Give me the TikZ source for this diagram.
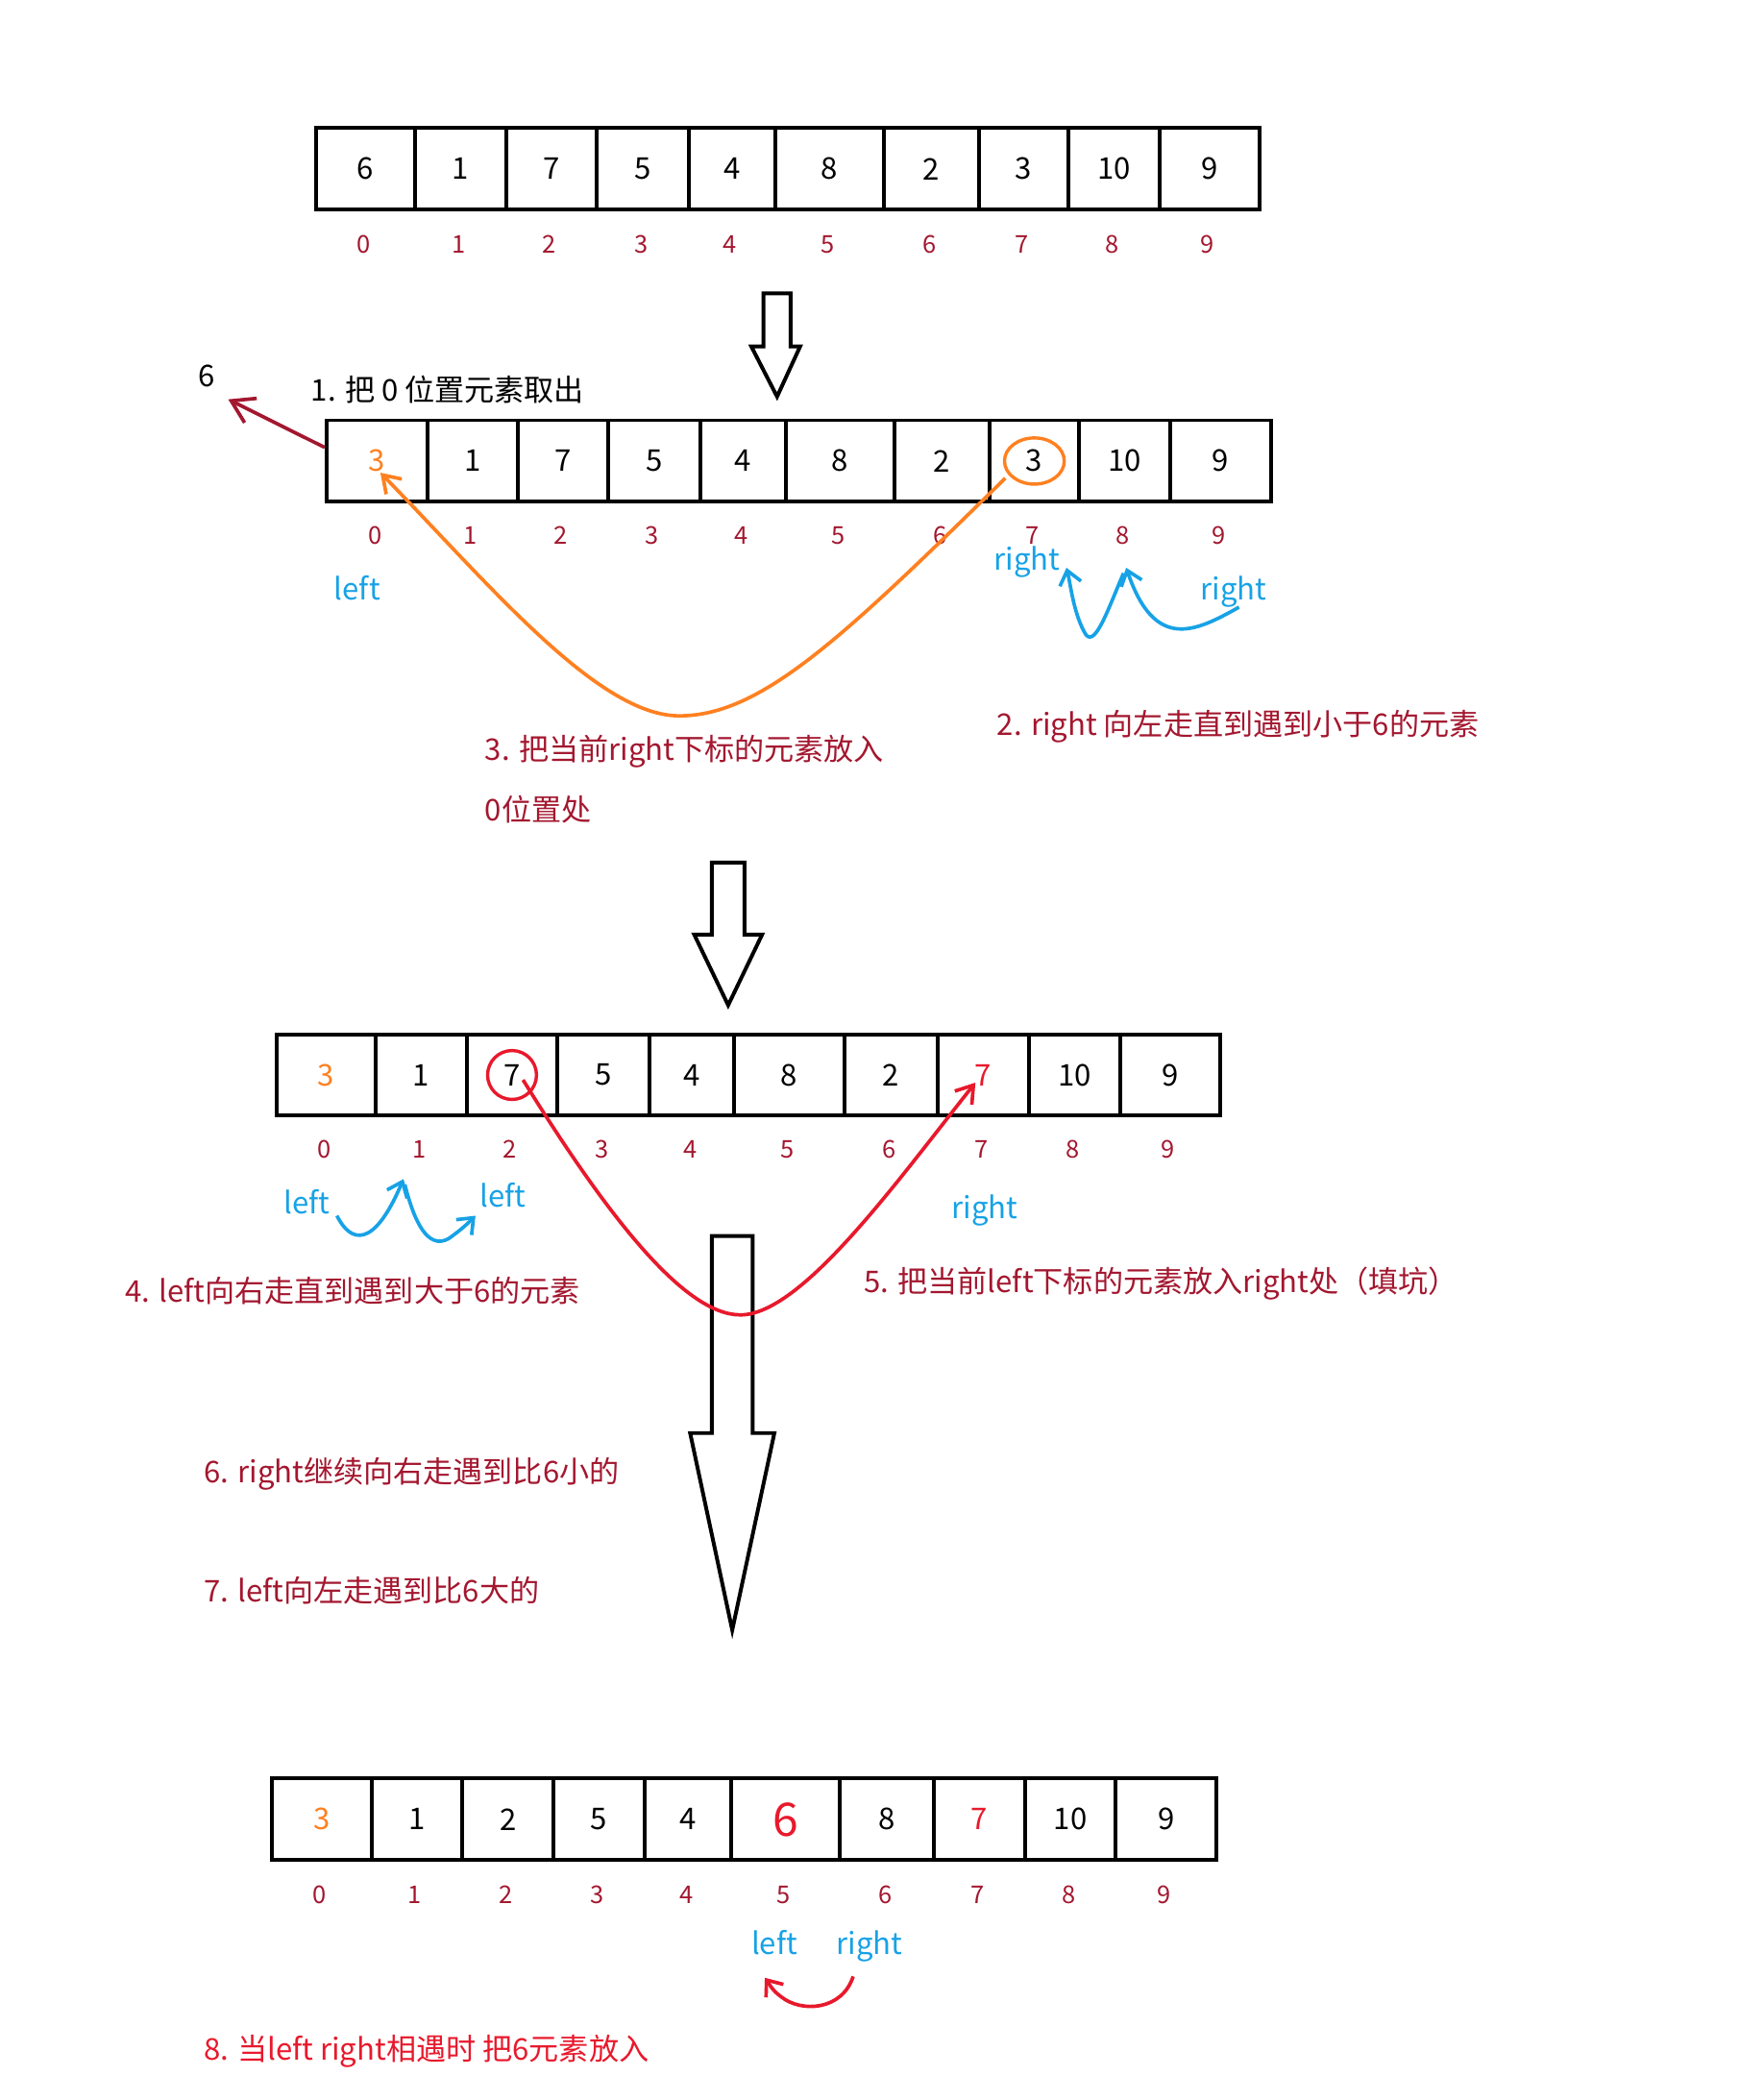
\documentclass[tikz,border=0pt]{standalone}
\usepackage{fontspec}
\setmainfont{Noto Sans CJK SC}
\usetikzlibrary{arrows.meta}
\definecolor{dred}{HTML}{A3172F}
\definecolor{sblue}{HTML}{17A2E6}
\definecolor{ora}{HTML}{FF8020}
\definecolor{rred}{HTML}{E8192C}
\tikzset{cell/.style={draw,line width=1.4pt,inner sep=0,anchor=north west,font=\fontsize{11}{12}\selectfont},
idx/.style={text=dred,font=\fontsize{9}{10}\selectfont},
note/.style={text=dred,anchor=west,font=\fontsize{11}{13}\selectfont},
bl/.style={text=sblue,font=\fontsize{11}{12}\selectfont},
hollow/.style={draw,line width=1.4pt,fill=white,line join=miter}}
\newcommand\drawrow[4]{%
 \foreach \a/\b/\v [count=\i from 0] in {#3} {
  \pgfmathsetmacro\w{(\b-\a)*0.5}
  \node[cell,minimum width=\w pt,minimum height=30pt] (#1c\i) at (\a,#2) {\v};
  \node[idx] (#1i\i) at ({(\a+\b)/2},#4) {\i};
 }}
\begin{document}
\begin{tikzpicture}[x=0.5pt,y=-0.5pt]
\useasboundingbox (0,0) rectangle (1298,1546);
\drawrow{a}{93}{231/304/6,304/371/1,371/438/7,438/506/5,506/569/4,569/649/8,649/719/2,719/785/3,785/852/10,852/926/9}{180}
\drawrow{b}{308}{239/313/{\color{ora}3},313/380/1,380/446/7,446/514/5,514/577/4,577/657/8,657/727/2,727/793/3,793/860/10,860/934/9}{394}
\drawrow{c}{760}{202/275/{\color{ora}3},275/342/1,342/409/7,409/477/5,477/539/4,539/620/8,620/689/2,689/756/{\color{rred}7},756/823/10,823/897/9}{846}
\drawrow{d}{1308}{199/272/{\color{ora}3},272/339/1,339/406/2,406/473/5,473/537/4,537/617/{\color{rred}\fontsize{17}{18}\selectfont 6},617/686/8,686/753/{\color{rred}7},753/820/10,820/894/9}{1395}
% hollow arrows
\draw[hollow] (562,216)--(582,216)--(582,255)--(589,255)--(572,292)--(553,255)--(562,255)--cycle;
\draw[hollow] (524,635)--(548,635)--(548,688)--(561,688)--(536,740)--(511,688)--(524,688)--cycle;
\draw[hollow] (524,910)--(554,910)--(554,1055)--(570,1055)--(539,1200)--(508,1055)--(524,1055)--cycle;
% row 2 annotations
\node[anchor=west,font=\fontsize{11}{12}\selectfont] (t1) at (222,287) {1. 把 0 位置元素取出};
\node[font=\fontsize{11}{12}\selectfont] (six) at (152,277) {6};
\coordinate (s6) at (168,294);
\draw[dred,line width=1.3pt,-{Straight Barb[length=8pt,width=10pt]}] (bc0.west) ++(0,-10) coordinate (sx) -- (s6);
\draw[ora,line width=1.2pt] (bc7) ellipse (22 and 17);
\coordinate (o1) at (740,352); \coordinate (o2) at (280,348);
\draw[ora,line width=1.3pt,-{Straight Barb[length=6pt,width=8pt]}] (o1) .. controls (620,470) and (560,527) .. (500,527) .. controls (440,527) and (360,430) .. (o2);
\node[bl] (l1) at (263,433) {left};
\node[bl] (r1) at (756,414) {right};
\node[bl] (r2) at (908,436) {right};
\coordinate (q1) at (912,447); \coordinate (q2) at (829,418); \coordinate (q3) at (785,418);
\draw[sblue,line width=1.3pt,-{Straight Barb[length=5pt,width=8pt]}] (q1) .. controls (880,465) and (850,480) .. (q2);
\draw[sblue,line width=1.3pt,-{Straight Barb[length=5pt,width=8pt]}] (827,422) .. controls (815,450) and (805,480) .. (798,465) .. controls (790,450) and (788,430) .. (q3);
\node[note] (t3) at (350,553) {3. 把当前right下标的元素放入};
\node[note] (t3b) at (350,596) {0位置处};
\node[note] (t2) at (727,535) {2. right 向左走直到遇到小于6的元素};
% row 3 annotations
\draw[rred,line width=1.2pt] (cc2) circle (18);
\coordinate (p1) at (385,795); \coordinate (p2) at (718,797);
\draw[rred,line width=1.3pt,-{Straight Barb[length=6pt,width=8pt]}] (p1) .. controls (450,900) and (505,968) .. (545,968) .. controls (590,968) and (660,870) .. (p2);
\node[bl] (l2) at (226,885) {left};
\node[bl] (l3) at (370,880) {left};
\node[bl] (r3) at (725,891) {right};
\coordinate (u1) at (297,868); \coordinate (u2) at (350,895);
\draw[sblue,line width=1.3pt,-{Straight Barb[length=5pt,width=8pt]}] (248,895) .. controls (258,915) and (275,920) .. (u1);
\draw[sblue,line width=1.3pt,-{Straight Barb[length=5pt,width=8pt]}] (298,872) .. controls (305,900) and (315,920) .. (330,912) .. controls (340,905) and (345,900) .. (u2);
\node[note] (t4) at (85,950) {4. left向右走直到遇到大于6的元素};
\node[note] (t5) at (629,945) {5. 把当前left下标的元素放入right处（填坑）};
\node[note] (t6) at (143,1085) {6. right继续向右走遇到比6小的};
\node[note] (t7) at (143,1171) {7. left向左走遇到比6大的};
% row 4 annotations
\node[bl] (l4) at (570,1430) {left};
\node[bl] (r4) at (640,1433) {right};
\coordinate (w1) at (628,1455); \coordinate (w2) at (563,1456);
\draw[rred,line width=1.3pt,-{Straight Barb[length=5pt,width=8pt]}] (w1) .. controls (620,1480) and (590,1482) .. (575,1470) .. controls (568,1465) and (566,1460) .. (w2);
\node[note,text=rred] (t8) at (143,1510) {8. 当left right相遇时 把6元素放入};
\end{tikzpicture}
\end{document}
